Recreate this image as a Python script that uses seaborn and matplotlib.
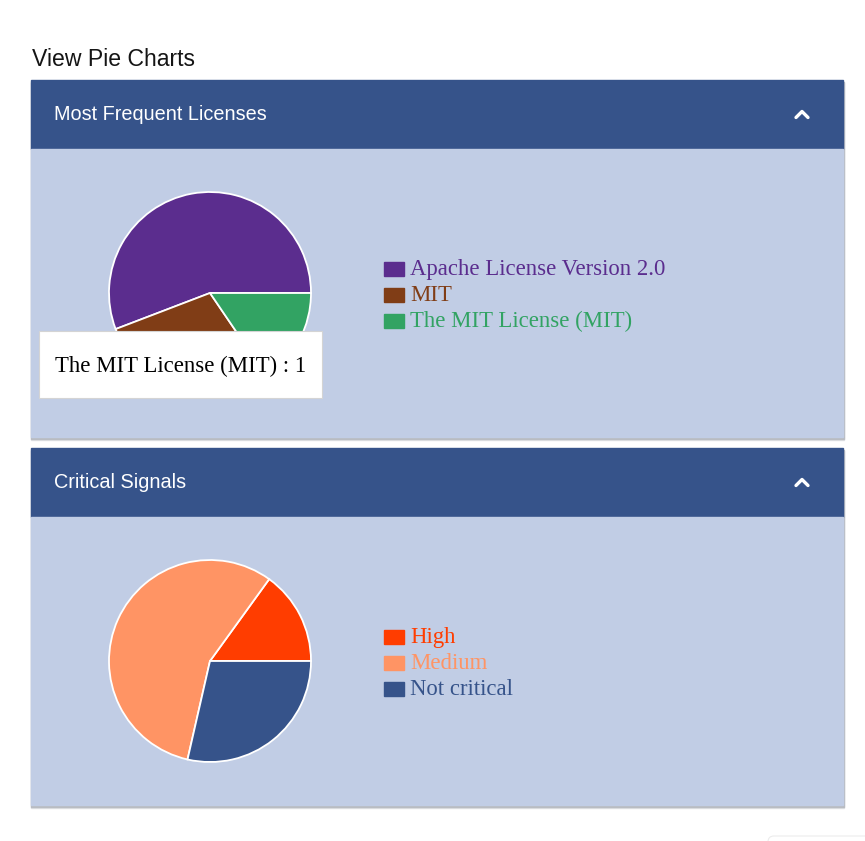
import matplotlib.pyplot as plt
import matplotlib.patches as mpatches
import seaborn as sns

# pie data, slice sizes (The MIT License = 1 from the tooltip)
license_names = ['Apache License Version 2.0', 'MIT', 'The MIT License (MIT)']
license_counts = [3.6, 1.85, 1.0]
license_colors = sns.color_palette(['#5b2d8e', '#803d16', '#32a363'])

signal_names = ['High', 'Medium', 'Not critical']
signal_counts = [1.0, 3.75, 1.9]
signal_colors = sns.color_palette(['#ff3d00', '#ff9464', '#36538a'])

panel_titles = ['Most Frequent Licenses', 'Critical Signals']
tooltip_idx = 2   # hovered slice in the first pie

sns.set_style('white')
plt.rcParams['font.family'] = ['Liberation Sans', 'DejaVu Sans']
SERIF = ['Liberation Serif', 'DejaVu Serif']

W, H = 865, 841
HEADER = '#36538a'
BODY = '#c1cde5'

fig = plt.figure(figsize=(W / 100, H / 100), dpi=100)
fig.patch.set_facecolor('white')


def px_axes(x, y, w, h, z):
    # axes placed in screen pixels (y down)
    ax = fig.add_axes([x / W, 1 - (y + h) / H, w / W, h / H], zorder=z)
    ax.set_axis_off()
    return ax


bg = px_axes(0, 0, W, H, 0)
bg.set_xlim(0, W)
bg.set_ylim(H, 0)

bg.text(32, 59, 'View Pie Charts', fontsize=16.6, va='center', ha='left', color='#151515')

panel_tops = [80, 448]
for top, title in zip(panel_tops, panel_titles):
    # soft card shadow, mostly below
    bg.add_patch(mpatches.Rectangle((31, top + 3), 813, 357, color='#e2e3e6', zorder=0))
    bg.add_patch(mpatches.Rectangle((31, top + 2), 812.5, 357, color='#b9bcc2', zorder=0))
    bg.add_patch(mpatches.Rectangle((31, top), 812, 69, color=HEADER, zorder=1))
    bg.add_patch(mpatches.Rectangle((31, top + 69), 812, 288, color=BODY, zorder=1))
    bg.text(54, top + 34, title, fontsize=14.3, color='white', va='center', zorder=2)
    bg.plot([796, 802, 808], [top + 37.5, top + 31.5, top + 37.5], color='white', lw=2.4,
            solid_capstyle='round', zorder=2)

# pies + legends
pie_centers = [(210, 293), (210, 661)]
R = 101
datasets = [(license_names, license_counts, license_colors),
            (signal_names, signal_counts, signal_colors)]
for (cx, cy), (names, counts, colors) in zip(pie_centers, datasets):
    ax = px_axes(cx - R, cy - R, 2 * R, 2 * R, 1)
    ax.pie(counts, colors=colors, startangle=0, counterclock=True,
           wedgeprops=dict(edgecolor='white', linewidth=1.3))
    ax.set_xlim(-1, 1)
    ax.set_ylim(-1, 1)
    for i, (n, c) in enumerate(zip(names, colors)):
        sy = cy + 2 + (i - 1) * 26
        bg.add_patch(mpatches.Rectangle((384, sy - 7.25), 20, 14.5, color=c, zorder=2))
        bg.text(410, sy + 6, n, color=c, fontsize=16.4, family=SERIF, va='baseline', zorder=2)

# hover tooltip on top of the first pie
over = px_axes(0, 0, W, H, 3)
over.set_xlim(0, W)
over.set_ylim(H, 0)
over.add_patch(mpatches.Rectangle((39, 331), 283, 67, facecolor='white', edgecolor='#d4d4d4', lw=0.8))
over.text(181, 372, f'{license_names[tooltip_idx]} : {license_counts[tooltip_idx]:g}',
          fontsize=16.4, family=SERIF, color='black', ha='center', va='baseline')
over.add_patch(mpatches.FancyBboxPatch((768, 836), 120, 20, boxstyle='round,pad=0,rounding_size=6',
                                       facecolor='white', edgecolor='#ececec', lw=0.8))

plt.savefig('out.png', dpi=100)
